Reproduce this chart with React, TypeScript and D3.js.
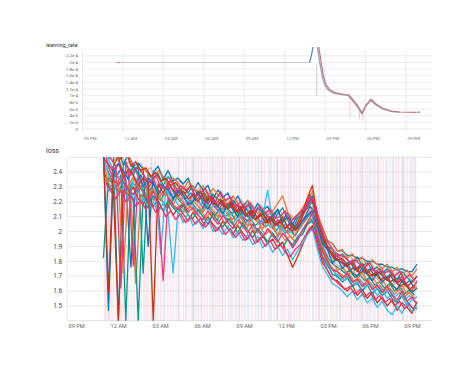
import React from 'react';
import * as d3 from 'd3';

// ---------- shared time axis (hours after 9 PM) ----------
const xTickHours = [0, 3, 6, 9, 12, 15, 18, 21, 24];
const xTickLabels = ['09 PM', '12 AM', '03 AM', '06 AM', '09 AM', '12 PM', '03 PM', '06 PM', '09 PM'];

// ---------- learning_rate ----------
const lrTicks = [0, 2e-5, 4e-5, 6e-5, 8e-5, 1e-4, 1.2e-4, 1.4e-4, 1.6e-4, 1.8e-4, 2e-4, 2.2e-4];
const lrTickLabels = ['0', '2e-5', '4e-5', '6e-5', '8e-5', '1e-4', '1.2e-4', '1.4e-4', '1.6e-4', '1.8e-4', '2e-4', '2.2e-4'];

const lrFlatHours = [2.63, 16.85];
const lrFlatValues = [2e-4, 2e-4];
const lrRiseHours = [16.85, 17.0, 17.15];
const lrRiseValues = [2e-4, 2.25e-4, 2.55e-4];
const lrDecayHours = [17.52, 17.72, 17.89, 18.09, 18.33, 18.7, 19.2, 19.76, 20.19, 20.5, 20.76, 21.05, 21.42, 21.79, 22.28, 22.9, 23.52, 24.76];
const lrDecayValues = [2.5e-4, 1.98e-4, 1.57e-4, 1.32e-4, 1.19e-4, 1.1e-4, 1.05e-4, 1.02e-4, 8.2e-5, 6.5e-5, 4.7e-5, 7.2e-5, 8.9e-5, 7.5e-5, 6.2e-5, 5.4e-5, 5.1e-5, 5.0e-5];
const lrShadowHours = [17.42, 17.62, 17.8, 18.0, 18.24, 18.62, 19.12, 19.7, 20.14, 20.46, 20.72, 21.02, 21.38, 21.75, 22.24, 22.86, 23.5];
const lrShadowValues = [2.5e-4, 1.96e-4, 1.55e-4, 1.3e-4, 1.17e-4, 1.08e-4, 1.04e-4, 1.01e-4, 8.0e-5, 6.3e-5, 4.6e-5, 7.0e-5, 8.7e-5, 7.3e-5, 6.1e-5, 5.3e-5, 5.0e-5];
const lrSpikes: [number, number, number][] = [[17.37, 1.0e-4, 1.93e-4], [19.85, 3.5e-5, 1.0e-4], [20.55, 3.0e-5, 6.0e-5], [20.8, 2.5e-5, 5.5e-5]];
const lrStartHour = 2.63;
const lrStartValue = 2e-4;

// ---------- loss ----------
const lossTicks = [1.5, 1.6, 1.7, 1.8, 1.9, 2.0, 2.1, 2.2, 2.3, 2.4];
const lossTickLabels = ['1.5', '1.6', '1.7', '1.8', '1.9', '2', '2.1', '2.2', '2.3', '2.4'];

const lossHours = [
  2.6, 2.96, 3.31, 3.67, 4.02, 4.38, 4.73, 5.09,
  5.44, 5.8, 6.16, 6.51, 6.87, 7.22, 7.58, 7.93,
  8.29, 8.65, 9.0, 9.36, 9.71, 10.07, 10.42, 10.78,
  11.13, 11.49, 11.85, 12.2, 12.56, 12.91, 13.27, 13.62,
  13.98, 14.33, 14.69, 15.05, 15.4, 15.76, 16.11, 16.47,
  16.82, 17.18, 17.53, 17.89, 18.25, 18.6, 18.96, 19.31,
  19.67, 20.02, 20.38, 20.73, 21.09, 21.45, 21.8, 22.16,
  22.51, 22.87, 23.22, 23.58, 23.93, 24.29, 24.64, 25.0,
];
// runs logged at slightly different wall-clock times
const lossHoursB = [
  2.78, 3.14, 3.49, 3.85, 4.2, 4.56, 4.91, 5.27,
  5.62, 5.98, 6.34, 6.69, 7.05, 7.4, 7.76, 8.11,
  8.47, 8.83, 9.18, 9.54, 9.89, 10.25, 10.6, 10.96,
  11.31, 11.67, 12.03, 12.38, 12.74, 13.09, 13.45, 13.8,
  14.16, 14.51, 14.87, 15.23, 15.58, 15.94, 16.29, 16.65,
  17.0, 17.36, 17.71, 18.07, 18.43, 18.78, 19.14, 19.49,
  19.85, 20.2, 20.56, 20.91, 21.27, 21.63, 21.98, 22.34,
  22.69, 23.05, 23.4, 23.76, 24.11, 24.47, 24.82,
];

const runBlueA = [
  2.56, 1.47, 2.38, 2.46, 2.41, 2.35, 2.44, 2.39,
  2.30, 2.36, 2.33, 2.25, 2.31, 2.28, 2.22, 2.27,
  2.25, 2.18, 2.20, 2.27, 2.19, 2.15, 2.21, 2.17,
  2.12, 2.19, 2.15, 2.10, 2.18, 2.14, 2.09, 2.16,
  2.13, 2.07, 2.11, 2.15, 2.06, 2.10, 2.05, 2.02,
  2.07, 2.11, 2.14, 2.03, 1.92, 1.88, 1.79, 1.82,
  1.75, 1.79, 1.72, 1.70, 1.76, 1.71, 1.67, 1.72,
  1.66, 1.70, 1.64, 1.61, 1.67, 1.63, 1.59, 1.62,
];
const runCyanA = [
  2.52, 2.38, 2.29, 2.34, 2.31, 2.24, 2.33, 2.27,
  2.22, 2.28, 2.21, 2.26, 2.19, 2.16, 2.24, 2.18,
  2.13, 2.20, 2.17, 2.11, 2.15, 2.19, 2.10, 2.08,
  2.14, 2.07, 2.05, 2.11, 2.02, 2.08, 2.04, 1.99,
  2.10, 2.28, 2.06, 1.96, 2.02, 1.95, 1.90, 1.97,
  2.00, 2.05, 2.09, 1.94, 1.83, 1.76, 1.75, 1.69,
  1.68, 1.71, 1.64, 1.66, 1.60, 1.65, 1.62, 1.57,
  1.61, 1.55, 1.58, 1.52, 1.57, 1.50, 1.54, 1.56,
];
const runTealA = [
  2.58, 2.49, 2.53, 1.40, 2.46, 2.43, 2.38, 2.45,
  1.72, 2.40, 2.35, 2.39, 2.31, 2.37, 2.33, 2.27,
  2.30, 2.26, 2.31, 2.24, 2.28, 2.21, 2.25, 2.22,
  2.19, 2.15, 2.21, 2.17, 2.12, 2.18, 2.13, 2.09,
  2.14, 2.10, 2.06, 2.12, 2.16, 2.08, 2.01, 2.09,
  2.12, 2.16, 2.20, 2.08, 1.99, 1.90, 1.88, 1.83,
  1.85, 1.81, 1.78, 1.83, 1.77, 1.79, 1.74, 1.76,
  1.72, 1.75, 1.71, 1.68, 1.73, 1.69, 1.66, 1.70,
];
const runTealB = [
  1.82, 2.36, 2.32, 2.27, 2.33, 2.29, 2.22, 1.40,
  2.26, 2.19, 2.24, 2.20, 2.14, 2.21, 2.16, 2.13,
  2.18, 2.11, 2.09, 2.15, 2.10, 2.05, 2.12, 2.07,
  2.03, 2.09, 2.05, 1.99, 2.06, 2.01, 1.96, 2.02,
  1.98, 1.93, 1.99, 1.94, 1.89, 1.95, 1.91, 1.96,
  1.98, 2.05, 2.07, 1.96, 1.83, 1.78, 1.71, 1.70,
  1.66, 1.69, 1.63, 1.65, 1.60, 1.64, 1.58, 1.62,
  1.57, 1.60, 1.55, 1.52, 1.57, 1.53, 1.49, 1.48,
];
const runOrangeA = [
  2.62, 2.51, 2.56, 2.47, 2.53, 2.52, 2.42, 2.38,
  2.43, 2.39, 2.34, 2.41, 2.37, 2.31, 2.36, 2.33,
  2.28, 2.34, 2.30, 2.26, 2.31, 2.24, 2.29, 2.25,
  2.22, 2.18, 2.24, 2.19, 2.15, 2.21, 2.17, 2.12,
  2.16, 2.11, 2.14, 2.19, 2.24, 2.13, 2.08, 2.11,
  2.16, 2.21, 2.27, 2.12, 2.03, 1.94, 1.92, 1.87,
  1.88, 1.82, 1.85, 1.80, 1.83, 1.77, 1.81, 1.78,
  1.75, 1.78, 1.73, 1.76, 1.71, 1.74, 1.70, 1.75,
];
const runOrangeB = [
  2.47, 2.33, 2.40, 2.36, 1.72, 2.31, 2.37, 2.28,
  2.33, 2.25, 2.29, 2.22, 2.27, 2.23, 2.18, 2.24,
  2.20, 2.15, 2.21, 2.17, 2.13, 2.18, 2.14, 2.10,
  2.16, 2.11, 2.08, 2.13, 2.07, 2.04, 2.10, 2.06,
  2.02, 2.07, 2.03, 1.98, 2.04, 1.99, 1.95, 2.01,
  2.05, 2.11, 2.15, 2.01, 1.89, 1.81, 1.80, 1.74,
  1.76, 1.71, 1.73, 1.68, 1.72, 1.66, 1.69, 1.65,
  1.68, 1.62, 1.65, 1.60, 1.64, 1.58, 1.61, 1.63,
];
const runRedA = [
  2.55, 1.59, 2.44, 2.51, 2.36, 2.42, 2.38, 2.31,
  2.36, 2.33, 1.40, 2.32, 2.26, 2.33, 2.28, 2.24,
  2.27, 2.22, 2.25, 2.20, 2.26, 2.19, 2.23, 2.17,
  2.21, 2.15, 2.18, 2.13, 2.17, 2.10, 2.14, 2.09,
  2.12, 2.06, 2.09, 2.04, 2.10, 2.03, 2.00, 2.06,
  2.13, 2.23, 2.31, 2.09, 1.98, 1.89, 1.86, 1.81,
  1.82, 1.77, 1.79, 1.73, 1.78, 1.74, 1.70, 1.73,
  1.71, 1.67, 1.72, 1.65, 1.68, 1.63, 1.66, 1.70,
];
const runRedB = [
  2.42, 2.31, 2.27, 1.40, 2.29, 2.24, 2.30, 2.22,
  2.18, 2.25, 2.17, 2.21, 2.14, 2.18, 2.11, 2.16,
  2.12, 2.07, 2.13, 2.08, 2.04, 2.10, 2.05, 2.01,
  2.07, 2.02, 1.98, 2.04, 1.99, 1.95, 2.01, 1.93,
  1.97, 1.92, 1.95, 1.89, 1.93, 1.84, 1.76, 1.83,
  1.91, 1.99, 2.04, 1.91, 1.79, 1.74, 1.68, 1.67,
  1.63, 1.60, 1.64, 1.57, 1.61, 1.55, 1.59, 1.52,
  1.56, 1.50, 1.54, 1.47, 1.52, 1.49, 1.45, 1.53,
];
const runPinkA = [
  2.50, 2.45, 2.41, 2.46, 2.37, 2.40, 1.77, 2.38,
  2.32, 2.29, 2.35, 2.28, 2.24, 2.31, 2.22, 2.28,
  2.23, 2.19, 2.26, 2.21, 2.16, 2.24, 2.18, 2.14,
  2.19, 2.15, 2.12, 2.18, 2.10, 2.07, 2.14, 2.09,
  2.05, 2.11, 2.02, 2.08, 2.04, 1.99, 2.05, 2.01,
  2.10, 2.17, 2.22, 2.07, 1.96, 1.90, 1.83, 1.84,
  1.80, 1.76, 1.81, 1.74, 1.78, 1.72, 1.75, 1.71,
  1.74, 1.68, 1.71, 1.66, 1.70, 1.64, 1.60, 1.67,
];
const runPinkB = [
  2.58, 2.44, 2.35, 2.31, 2.37, 2.28, 2.25, 2.32,
  2.26, 2.21, 2.27, 2.19, 1.67, 2.23, 2.18, 2.15,
  2.19, 2.13, 2.16, 2.11, 2.08, 2.14, 2.09, 2.05,
  2.11, 2.06, 2.02, 2.08, 2.04, 1.99, 2.05, 2.01,
  1.96, 2.02, 1.97, 1.93, 1.99, 1.95, 1.89, 1.94,
  2.01, 2.06, 2.13, 1.97, 1.87, 1.80, 1.74, 1.73,
  1.69, 1.72, 1.66, 1.68, 1.63, 1.67, 1.61, 1.64,
  1.59, 1.63, 1.57, 1.54, 1.60, 1.53, 1.56, 1.51,
];
const runGrayA = [
  2.60, 2.52, 2.47, 2.53, 2.49, 2.40, 2.44, 2.37,
  2.39, 2.33, 2.37, 2.31, 2.35, 2.29, 2.32, 2.26,
  2.29, 2.25, 2.21, 2.28, 2.23, 2.19, 2.25, 2.20,
  2.17, 2.22, 2.14, 2.19, 2.12, 2.16, 2.10, 2.15,
  2.11, 2.06, 2.12, 2.08, 2.03, 2.09, 2.05, 2.07,
  2.12, 2.16, 2.23, 2.07, 1.97, 1.91, 1.85, 1.84,
  1.82, 1.78, 1.80, 1.76, 1.79, 1.72, 1.76, 1.73,
  1.70, 1.74, 1.69, 1.72, 1.66, 1.70, 1.67, 1.65,
];
const runGrayB = [
  2.48, 2.43, 2.37, 2.41, 2.34, 2.30, 2.36, 2.32,
  2.27, 2.33, 2.28, 2.24, 2.30, 2.25, 2.20, 2.26,
  2.21, 2.17, 2.23, 2.18, 2.14, 2.20, 2.15, 2.12,
  2.16, 2.12, 2.08, 2.14, 2.09, 2.05, 2.11, 2.07,
  2.04, 2.08, 2.02, 2.06, 2.00, 2.04, 1.98, 2.02,
  2.07, 2.12, 2.17, 2.02, 1.93, 1.84, 1.82, 1.77,
  1.77, 1.72, 1.76, 1.69, 1.74, 1.67, 1.71, 1.68,
  1.65, 1.69, 1.63, 1.66, 1.61, 1.64, 1.59, 1.62,
];
const runCyanB = [
  2.40, 2.27, 2.33, 2.25, 2.30, 2.21, 2.26, 2.19,
  2.23, 2.16, 2.20, 2.13, 2.19, 2.12, 1.72, 2.14,
  2.06, 2.12, 2.04, 2.08, 2.02, 2.09, 2.00, 2.03,
  1.98, 2.04, 1.96, 2.00, 1.94, 1.98, 1.91, 1.97,
  1.89, 1.93, 1.86, 1.90, 1.84, 1.88, 1.81, 1.87,
  1.92, 1.98, 2.02, 1.88, 1.76, 1.71, 1.65, 1.63,
  1.60, 1.56, 1.60, 1.54, 1.58, 1.52, 1.55, 1.49,
  1.53, 1.47, 1.44, 1.50, 1.45, 1.52, 1.46, 1.50,
];
const runBlueB = [
  2.65, 2.54, 2.51, 2.55, 2.45, 2.52, 2.44, 2.46,
  2.42, 1.90, 2.40, 2.44, 2.35, 2.41, 2.34, 2.36,
  2.32, 2.36, 2.27, 2.33, 2.28, 2.31, 2.22, 2.28,
  2.23, 2.26, 2.18, 2.24, 2.17, 2.21, 2.13, 2.19,
  2.14, 2.17, 2.09, 2.15, 2.07, 2.13, 2.05, 2.11,
  2.14, 2.18, 2.24, 2.11, 2.02, 1.94, 1.92, 1.87,
  1.87, 1.84, 1.84, 1.82, 1.82, 1.80, 1.80, 1.78,
  1.78, 1.76, 1.76, 1.74, 1.75, 1.73, 1.73, 1.78,
];

// runs on the second clock
const runPinkC = [
  2.57, 2.49, 2.44, 1.62, 2.47, 2.38, 2.43, 2.41,
  2.36, 2.33, 2.38, 2.30, 2.29, 2.35, 2.27, 2.31,
  2.28, 2.30, 2.24, 2.26, 2.29, 2.22, 2.20, 2.27,
  2.21, 2.23, 2.17, 2.20, 2.16, 2.19, 2.13, 2.17,
  2.12, 2.15, 2.09, 2.10, 2.14, 2.06, 2.10, 2.13,
  2.16, 2.24, 2.19, 2.05, 1.95, 1.91, 1.86, 1.84,
  1.83, 1.79, 1.81, 1.78, 1.76, 1.79, 1.73, 1.75,
  1.72, 1.74, 1.70, 1.73, 1.68, 1.71, 1.67,
];
const runTealC = [
  2.44, 2.36, 2.30, 2.38, 1.40, 2.33, 2.27, 2.31,
  2.25, 2.29, 2.26, 2.21, 2.27, 2.19, 2.24, 2.20,
  2.17, 2.21, 2.16, 2.13, 2.19, 2.14, 2.11, 2.16,
  2.10, 2.13, 2.08, 2.12, 2.06, 2.09, 2.04, 2.07,
  2.03, 2.06, 2.00, 2.04, 1.99, 2.02, 1.97, 2.03,
  2.07, 2.12, 2.08, 1.95, 1.86, 1.80, 1.77, 1.75,
  1.72, 1.74, 1.69, 1.71, 1.67, 1.69, 1.64, 1.66,
  1.62, 1.65, 1.60, 1.63, 1.58, 1.61, 1.57,
];
const runRedC = [
  2.63, 2.58, 2.52, 2.49, 2.55, 2.44, 2.47, 2.41,
  2.43, 2.37, 2.40, 2.34, 2.36, 2.31, 2.33, 2.28,
  2.26, 2.31, 2.23, 2.27, 2.20, 2.24, 2.18, 2.22,
  2.16, 2.20, 2.13, 2.17, 2.11, 2.14, 2.08, 2.12,
  2.06, 2.10, 2.04, 2.07, 2.02, 2.05, 2.01, 2.07,
  2.15, 2.25, 2.16, 2.02, 1.92, 1.87, 1.82, 1.80,
  1.78, 1.74, 1.76, 1.72, 1.74, 1.70, 1.72, 1.68,
  1.69, 1.66, 1.68, 1.63, 1.65, 1.61, 1.64,
];
const runOrangeC = [
  2.36, 2.30, 2.34, 2.26, 2.31, 2.24, 1.65, 2.25,
  2.22, 2.26, 2.20, 2.23, 2.17, 2.21, 2.15, 2.18,
  2.13, 2.17, 2.12, 2.15, 2.09, 2.13, 2.07, 2.11,
  2.05, 2.09, 2.03, 2.07, 2.02, 2.05, 1.99, 2.03,
  1.98, 2.01, 1.96, 1.99, 1.94, 1.97, 1.93, 1.98,
  2.04, 2.09, 2.04, 1.92, 1.82, 1.77, 1.74, 1.72,
  1.69, 1.71, 1.66, 1.68, 1.64, 1.66, 1.62, 1.64,
  1.60, 1.62, 1.58, 1.61, 1.56, 1.59, 1.55,
];
const runBlueC = [
  2.48, 2.43, 2.37, 2.42, 2.35, 1.76, 2.33, 2.38,
  2.31, 2.34, 2.29, 2.32, 2.27, 2.30, 2.24, 2.28,
  2.22, 2.26, 2.21, 2.24, 2.19, 2.23, 2.16, 2.20,
  2.15, 2.18, 2.13, 2.16, 2.10, 2.14, 2.08, 2.12,
  2.06, 2.10, 2.04, 2.08, 2.02, 2.06, 2.01, 2.05,
  2.10, 2.17, 2.13, 1.99, 1.90, 1.86, 1.81, 1.80,
  1.77, 1.80, 1.74, 1.77, 1.72, 1.75, 1.70, 1.73,
  1.68, 1.71, 1.66, 1.69, 1.64, 1.67, 1.62,
];
const runCyanC = [
  2.53, 2.45, 2.39, 2.35, 2.40, 2.32, 2.36, 2.29,
  2.33, 2.27, 2.30, 1.85, 2.28, 2.24, 2.27, 2.21,
  2.25, 2.19, 2.23, 2.18, 2.21, 2.15, 2.19, 2.13,
  2.17, 2.11, 2.15, 2.09, 2.13, 2.07, 2.11, 2.05,
  2.09, 2.03, 2.07, 2.01, 2.05, 1.99, 2.04, 2.02,
  2.08, 2.13, 2.07, 1.93, 1.84, 1.78, 1.72, 1.70,
  1.67, 1.70, 1.64, 1.67, 1.62, 1.65, 1.60, 1.63,
  1.58, 1.61, 1.56, 1.59, 1.54, 1.57, 1.53,
];
const runGrayC = [
  2.61, 2.55, 2.49, 2.53, 2.45, 2.48, 2.42, 2.46,
  2.40, 2.43, 2.37, 2.40, 2.34, 2.37, 2.31, 2.34,
  2.29, 2.32, 2.27, 2.30, 2.25, 2.28, 2.23, 2.26,
  2.21, 2.24, 2.19, 2.22, 2.17, 2.20, 2.15, 2.18,
  2.13, 2.16, 2.11, 2.14, 2.09, 2.12, 2.08, 2.12,
  2.16, 2.22, 2.17, 2.04, 1.95, 1.90, 1.86, 1.84,
  1.82, 1.84, 1.79, 1.82, 1.77, 1.80, 1.75, 1.78,
  1.73, 1.76, 1.71, 1.74, 1.70, 1.72, 1.68,
];
const runMagentaC = [
  2.33, 2.27, 2.22, 2.28, 2.20, 2.24, 2.17, 2.21,
  2.15, 2.19, 2.13, 2.17, 2.10, 2.14, 2.08, 2.12,
  2.06, 2.10, 2.05, 2.09, 2.03, 2.07, 2.00, 2.04,
  1.98, 2.02, 1.96, 2.00, 1.94, 1.98, 1.92, 1.96,
  1.90, 1.94, 1.88, 1.92, 1.86, 1.83, 1.88, 1.91,
  1.97, 2.03, 1.99, 1.87, 1.77, 1.71, 1.67, 1.64,
  1.61, 1.63, 1.58, 1.61, 1.56, 1.59, 1.54, 1.57,
  1.52, 1.55, 1.50, 1.53, 1.48, 1.51, 1.47,
];

const lossRuns: { values: number[]; color: string; clock: 'A' | 'B' }[] = [
  { values: runGrayA, color: '#BBBBBB', clock: 'A' },
  { values: runGrayC, color: '#BBBBBB', clock: 'B' },
  { values: runGrayB, color: '#BBBBBB', clock: 'A' },
  { values: runTealA, color: '#009988', clock: 'A' },
  { values: runBlueC, color: '#0077BB', clock: 'B' },
  { values: runBlueB, color: '#0077BB', clock: 'A' },
  { values: runOrangeA, color: '#EE7733', clock: 'A' },
  { values: runTealC, color: '#009988', clock: 'B' },
  { values: runCyanA, color: '#33BBEE', clock: 'A' },
  { values: runRedB, color: '#CC3311', clock: 'A' },
  { values: runOrangeC, color: '#EE7733', clock: 'B' },
  { values: runPinkA, color: '#EE3377', clock: 'A' },
  { values: runTealB, color: '#009988', clock: 'A' },
  { values: runCyanC, color: '#33BBEE', clock: 'B' },
  { values: runOrangeB, color: '#EE7733', clock: 'A' },
  { values: runBlueA, color: '#0077BB', clock: 'A' },
  { values: runRedC, color: '#CC3311', clock: 'B' },
  { values: runCyanB, color: '#33BBEE', clock: 'A' },
  { values: runMagentaC, color: '#EE3377', clock: 'B' },
  { values: runRedA, color: '#CC3311', clock: 'A' },
  { values: runPinkC, color: '#EE3377', clock: 'B' },
  { values: runPinkB, color: '#EE3377', clock: 'A' },
];

// raw (unsmoothed) off-scale samples, drawn as faint vertical strokes
const pinkSpikeHours = [2.7, 2.8, 3.0, 3.15, 3.3, 3.5, 3.8, 3.9, 4.05, 4.2, 4.4, 4.8, 5.0, 5.1, 5.5, 5.65, 5.8, 6.1, 6.3, 6.5, 6.7, 6.9, 7.2, 7.4, 7.6, 7.95, 8.0, 8.3, 8.5, 8.7, 8.9, 9.1, 9.25, 9.4, 9.6, 9.8, 10.0, 10.2, 10.4, 10.6, 10.75, 10.9, 11.1, 11.3, 11.55, 11.8, 12.1, 12.3, 12.5, 12.7, 12.9, 13.2, 13.45, 13.7, 13.9, 14.1, 14.4, 14.6, 14.8, 15.05, 15.3, 15.45, 15.6, 15.8, 16.0, 16.2, 16.4, 16.6, 16.9, 17.1, 17.3, 17.55, 17.8, 18.0, 18.2, 18.4, 18.6, 18.85, 19.0, 19.3, 19.5, 19.7, 19.9, 20.1, 20.3, 20.5, 20.7, 20.9, 21.1, 21.3, 21.45, 21.6, 21.85, 22.0, 22.2, 22.4, 22.6, 22.8, 23.1, 23.3, 23.5, 23.7, 23.9, 24.1, 24.3, 24.5, 24.7, 24.85];
const blueSpikeHours = [2.9, 3.7, 4.6, 5.3, 6.0, 6.3, 7.0, 7.8, 8.5, 9.0, 9.6, 10.4, 11.1, 11.7, 12.3, 13.0, 13.6, 13.9, 14.5, 15.0, 15.9, 16.7, 17.6, 18.4, 19.2, 19.5, 20.3, 21.1, 21.7, 22.2, 22.9, 23.3, 24.0, 24.6, 24.9];

const FONT = 'Roboto, "Noto Sans", sans-serif';

export default function App() {
  // learning-rate panel
  const lrL = 82.5, lrR = 432, lrT = 47, lrB = 132.3;
  const lrX = d3.scaleLinear().domain([0, 25.93]).range([lrL, lrR]);
  const lrY = d3.scaleLinear().domain([-1e-5, 2.466e-4]).range([lrB, lrT]);
  const lrLine = (hs: number[], vs: number[]) =>
    d3.line<number>().x((_, i) => lrX(hs[i])).y((v) => lrY(v))(vs) || '';

  // loss panel
  const lL = 67, lR = 432, lT = 157.3, lB = 320.7;
  const lX = d3.scaleLinear().domain([0, 26.07]).range([lL, lR]);
  const lY = d3.scaleLinear().domain([1.4, 2.5]).range([lB, lT]);
  const lossLineA = d3.line<number>().x((_, i) => lX(lossHours[i])).y((v) => lY(v));
  const lossLineB = d3.line<number>().x((_, i) => lX(lossHoursB[i])).y((v) => lY(v));

  return (
    <svg width={474} height={372} style={{ position: 'absolute', left: 0, top: 0, background: '#fff' }} fontFamily={FONT}>
      <defs>
        <clipPath id="lrClip"><rect x={lrL} y={lrT} width={lrR - lrL} height={lrB - lrT} /></clipPath>
        <clipPath id="lossClip"><rect x={lL} y={lT} width={lR - lL} height={lB - lT} /></clipPath>
      </defs>

      {/* ---------- learning_rate ---------- */}
      <text x={46} y={47} fontSize={5.5} fill="#333">learning_rate</text>
      {lrTicks.map((t, i) => (
        <g key={'lry' + i}>
          <line x1={lrL} x2={lrR} y1={lrY(t)} y2={lrY(t)} stroke="#e4e4e4" strokeWidth={0.7} />
          <text x={78} y={lrY(t) + 1.6} fontSize={4.4} fill="#666" textAnchor="end">{lrTickLabels[i]}</text>
        </g>
      ))}
      {xTickHours.map((h, i) => (
        <g key={'lrx' + i}>
          <line x1={lrX(h)} x2={lrX(h)} y1={lrT + 3} y2={lrB} stroke="#e4e4e4" strokeWidth={0.8} />
          <text x={lrX(h) + 1.5} y={139.5} fontSize={4.4} fill="#777">{xTickLabels[i]}</text>
        </g>
      ))}
      <g clipPath="url(#lrClip)">
        {lrSpikes.map((s, i) => (
          <line key={'lrs' + i} x1={lrX(s[0])} x2={lrX(s[0])} y1={lrY(s[1])} y2={lrY(s[2])}
            stroke={i === 0 ? '#aaaaaa' : '#EE3377'} strokeOpacity={i === 0 ? 0.7 : 0.35} strokeWidth={0.8} />
        ))}
        <path d={lrLine(lrFlatHours, lrFlatValues)} fill="none" stroke="#c8c8c8" strokeWidth={1} />
        <path d={lrLine(lrRiseHours, lrRiseValues)} fill="none" stroke="#5f86b3" strokeWidth={1.3} />
        <path d={lrLine(lrShadowHours, lrShadowValues)} fill="none" stroke="#9aa7b8" strokeWidth={1.4} />
        <path d={lrLine(lrDecayHours, lrDecayValues)} fill="none" stroke="#c0707c" strokeWidth={1.1} />
        <line x1={lrX(lrStartHour) - 1.5} x2={lrX(lrStartHour) + 1.5} y1={lrY(lrStartValue)} y2={lrY(lrStartValue)} stroke="#e0707c" strokeWidth={1} />
        <line x1={lrX(24.76)} x2={lrX(24.76) + 4} y1={lrY(5.0e-5)} y2={lrY(5.0e-5)} stroke="#999" strokeWidth={0.8} />
        <circle cx={lrX(24.76) + 2.5} cy={lrY(5.0e-5)} r={1} fill="#999" />
      </g>

      {/* ---------- loss ---------- */}
      <text x={46} y={153} fontSize={7} fill="#333">loss</text>
      {lossTicks.map((t, i) => (
        <g key={'ly' + i}>
          <line x1={lL} x2={lR} y1={lY(t)} y2={lY(t)} stroke="#e2e2e2" strokeWidth={0.8} />
          <text x={62} y={lY(t) + 2.3} fontSize={6.4} fill="#444" textAnchor="end">{lossTickLabels[i]}</text>
        </g>
      ))}
      <line x1={lL} x2={lR} y1={lT} y2={lT} stroke="#e2e2e2" strokeWidth={0.8} />
      <line x1={lL} x2={lR} y1={lB} y2={lB} stroke="#d8d8d8" strokeWidth={0.8} />
      {xTickHours.map((h, i) => (
        <g key={'lx' + i}>
          <line x1={lX(h)} x2={lX(h)} y1={lT} y2={lB} stroke="#e2e2e2" strokeWidth={0.8} />
          <text x={lX(h) + 1.5} y={327.5} fontSize={5.6} fill="#666">{xTickLabels[i]}</text>
        </g>
      ))}
      <g clipPath="url(#lossClip)">
        {pinkSpikeHours.map((h, i) => (
          <line key={'ps' + i} x1={lX(h)} x2={lX(h)} y1={lY(2.5)} y2={lY(1.4)} stroke="#EE3377" strokeOpacity={0.12} strokeWidth={1.6} />
        ))}
        {blueSpikeHours.map((h, i) => (
          <line key={'bs' + i} x1={lX(h)} x2={lX(h)} y1={lY(2.5)} y2={lY(1.4)} stroke="#33BBEE" strokeOpacity={0.14} strokeWidth={1.6} />
        ))}
        {lossRuns.map((r, i) => (
          <path key={'run' + i} d={(r.clock === 'A' ? lossLineA : lossLineB)(r.values) || ''}
            fill="none" stroke={r.color} strokeWidth={1.3} strokeLinejoin="round" />
        ))}
      </g>
    </svg>
  );
}
